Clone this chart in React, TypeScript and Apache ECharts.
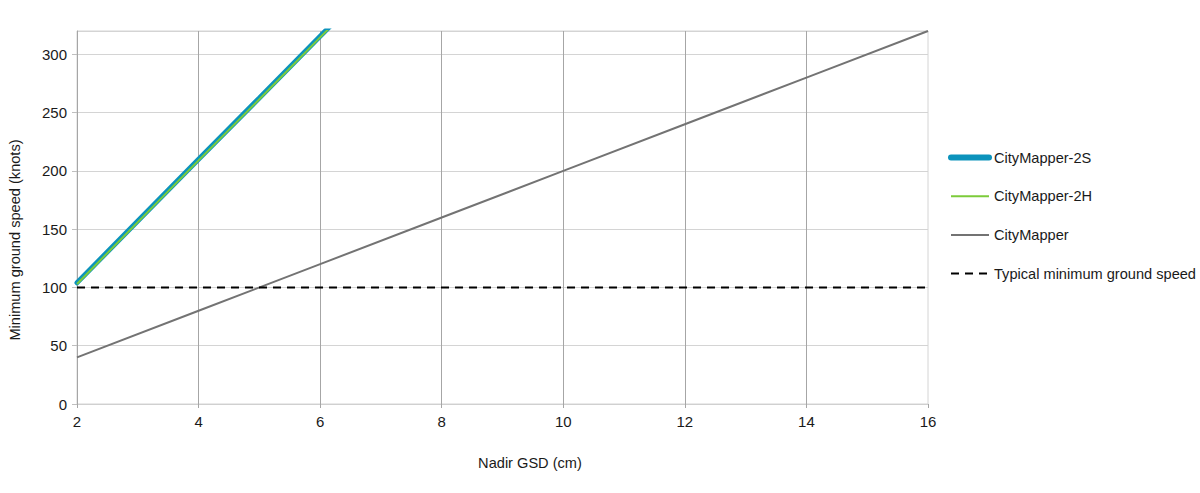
import React, { useEffect, useRef } from "react";
import * as echarts from "echarts";

const gsd = [2, 3, 4, 5, 6, 7];
const cm2sSpeed = [104, 157, 210, 262.5, 315.5, 368];
const cm2hSpeed = [103, 156, 209, 261.5, 314.5, 367];
const cmGsd = [2, 4, 6, 8, 10, 12, 14, 16];
const cmSpeed = [40, 80, 120, 160, 200, 240, 280, 320];
const typicalGsd = [2, 16];
const typicalSpeed = [100, 100];
const seriesNames = ["CityMapper-2S", "CityMapper-2H", "CityMapper", "Typical minimum ground speed"];

const zip = (xs: number[], ys: number[]) => xs.map((x, i) => [x, ys[i]]);

const FONT = "'Liberation Sans', Arial, sans-serif";
const BLUE = "#0c93bc";
const GREEN = "#7ccb3a";
const GREY = "#737373";

export default function App() {
  const ref = useRef<HTMLDivElement>(null);
  useEffect(() => {
    if (!ref.current) return;
    const chart = echarts.init(ref.current, undefined, { renderer: "svg" });
    chart.setOption({
      animation: false,
      textStyle: { fontFamily: FONT },
      grid: {
        left: 77,
        right: 272,
        top: 31,
        bottom: 89,
        show: true,
        borderColor: "#d4d4d4",
        borderWidth: 1,
      },
      legend: {
        orient: "vertical",
        left: 943,
        top: 145,
        itemWidth: 38,
        itemHeight: 14,
        itemGap: 23.7,
        itemStyle: { opacity: 0 },
        data: [
          { name: seriesNames[0], lineStyle: { width: 6, cap: "round", color: BLUE } },
          { name: seriesNames[1], lineStyle: { width: 2, color: GREEN } },
          { name: seriesNames[2], lineStyle: { width: 2, color: GREY } },
          { name: seriesNames[3], lineStyle: { width: 2, color: "#000", type: [8, 6] } },
        ],
        textStyle: { fontFamily: FONT, fontSize: 14.6, color: "#1a1a1a" },
      },
      xAxis: {
        type: "value",
        min: 2,
        max: 16,
        interval: 2,
        axisLine: { show: true, lineStyle: { color: "#d0d0d0", width: 1 } },
        axisTick: { show: true, length: 4, lineStyle: { color: "#a6a6a6" } },
        axisLabel: { fontFamily: FONT, fontSize: 15, color: "#1a1a1a", margin: 10 },
        splitLine: { show: true, showMaxLine: false, lineStyle: { color: "#a6a6a6", width: 1 } },
      },
      yAxis: {
        type: "value",
        min: 0,
        max: 320,
        interval: 50,
        axisLine: { show: true, lineStyle: { color: "#a6a6a6", width: 1 } },
        axisTick: { show: true, length: 5, lineStyle: { color: "#bfbfbf" } },
        axisLabel: { fontFamily: FONT, fontSize: 15, color: "#1a1a1a", margin: 10, showMaxLabel: false },
        splitLine: { show: true, lineStyle: { color: "#d4d4d4", width: 1 } },
      },
      graphic: [
        {
          type: "text",
          x: 530,
          y: 463,
          style: {
            text: "Nadir GSD (cm)",
            fontFamily: FONT,
            fontSize: 14.6,
            fill: "#1a1a1a",
            textAlign: "center",
            textVerticalAlign: "middle",
          },
        },
        {
          type: "text",
          x: 15,
          y: 240,
          rotation: Math.PI / 2,
          style: {
            text: "Minimum ground speed (knots)",
            fontFamily: FONT,
            fontSize: 14.6,
            fill: "#1a1a1a",
            textAlign: "center",
            textVerticalAlign: "middle",
          },
        },
      ],
      series: [
        {
          name: seriesNames[0],
          type: "line",
          data: zip(gsd, cm2sSpeed),
          symbol: "none",
          z: 3,
          lineStyle: { color: BLUE, width: 5, cap: "round" },
          itemStyle: { color: BLUE },
        },
        {
          name: seriesNames[1],
          type: "line",
          data: zip(gsd, cm2hSpeed),
          symbol: "none",
          z: 4,
          lineStyle: { color: GREEN, width: 2 },
          itemStyle: { color: GREEN },
        },
        {
          name: seriesNames[2],
          type: "line",
          data: zip(cmGsd, cmSpeed),
          symbol: "none",
          z: 2,
          lineStyle: { color: GREY, width: 2 },
          itemStyle: { color: GREY },
        },
        {
          name: seriesNames[3],
          type: "line",
          data: zip(typicalGsd, typicalSpeed),
          symbol: "none",
          z: 2,
          lineStyle: { color: "#000000", width: 2, type: [8, 6] },
          itemStyle: { color: "#000000" },
        },
      ],
    });
    return () => chart.dispose();
  }, []);
  return (
    <div
      ref={ref}
      style={{ position: "fixed", left: 0, top: 0, width: 1200, height: 493, background: "#fff" }}
    />
  );
}
